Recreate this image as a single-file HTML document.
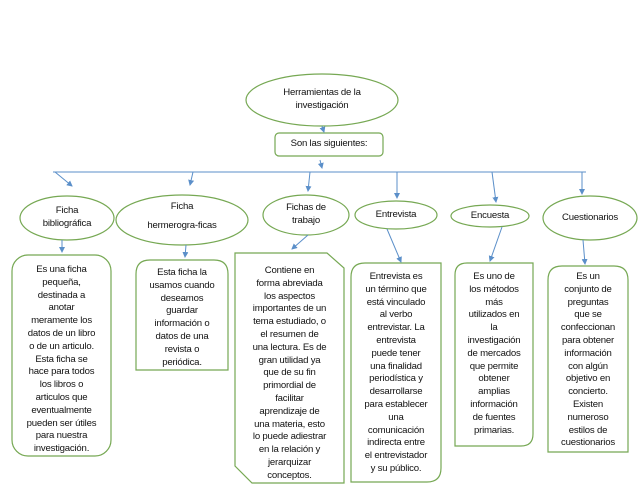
<!DOCTYPE html>
<html><head><meta charset="utf-8"><style>
body{margin:0;width:638px;height:493px;background:#fff;position:relative;overflow:hidden;font-family:"Liberation Sans",sans-serif;}
svg{position:absolute;left:0;top:0}
.t{position:absolute;text-align:center;font-size:9.6px;line-height:12.8px;color:#111;letter-spacing:-0.2px}
</style></head><body>
<svg width="638" height="493" viewBox="0 0 638 493">
<defs><marker id="a" markerWidth="6" markerHeight="6" refX="5" refY="3" orient="auto"><path d="M0,0L6,3L0,6z" fill="#5b8fc9"/></marker></defs>
<g fill="#fff" stroke="#76a853" stroke-width="1.2">
<ellipse cx="322" cy="100" rx="76" ry="26"/>
<rect x="275" y="133" width="108" height="23" rx="4"/>
<ellipse cx="67" cy="218" rx="47" ry="22"/>
<ellipse cx="182" cy="220" rx="66" ry="25"/>
<ellipse cx="306" cy="215" rx="43" ry="20"/>
<ellipse cx="396" cy="215" rx="41" ry="14"/>
<ellipse cx="490" cy="216" rx="39" ry="11"/>
<ellipse cx="590" cy="218" rx="47" ry="22"/>
<rect x="12" y="255" width="99" height="201" rx="16"/>
<path d="M136,370V274Q136,260 150,260H214Q228,260 228,274V370Z"/>
<path d="M235,253H327L344,268V483H252L235,466Z"/>
<path d="M351,482V277Q351,263 365,263H441V468Q441,482 427,482Z"/>
<path d="M455,446V275Q455,263 467,263H533V434Q533,446 521,446Z"/>
<path d="M548,452V280Q548,266 562,266H614Q628,266 628,280V452Z"/>
</g>
<g stroke="#5b8fc9" stroke-width="1" fill="none">
<line x1="53" y1="172" x2="586" y2="172"/>
<line x1="322" y1="126" x2="324" y2="132" marker-end="url(#a)"/>
<line x1="320" y1="160" x2="322" y2="168" marker-end="url(#a)"/>
<line x1="55" y1="172" x2="72" y2="186" marker-end="url(#a)"/>
<line x1="193" y1="172" x2="190" y2="185" marker-end="url(#a)"/>
<line x1="310" y1="172" x2="308" y2="191" marker-end="url(#a)"/>
<line x1="397" y1="172" x2="397" y2="198" marker-end="url(#a)"/>
<line x1="492" y1="172" x2="496" y2="202" marker-end="url(#a)"/>
<line x1="582" y1="172" x2="582" y2="194" marker-end="url(#a)"/>
<line x1="62" y1="240" x2="62" y2="252" marker-end="url(#a)"/>
<line x1="186" y1="245" x2="185" y2="257" marker-end="url(#a)"/>
<line x1="308" y1="235" x2="292" y2="249" marker-end="url(#a)"/>
<line x1="387" y1="229" x2="401" y2="262" marker-end="url(#a)"/>
<line x1="502" y1="227" x2="490" y2="261" marker-end="url(#a)"/>
<line x1="583" y1="240" x2="585" y2="264" marker-end="url(#a)"/>
</g>
</svg>
<div class="t" style="left:262px;top:87px;width:120px">Herramientas de la<br>investigación</div>
<div class="t" style="left:275px;top:138px;width:108px">Son las siguientes:</div>
<div class="t" style="left:20px;top:205px;width:94px">Ficha<br>bibliográfica</div>
<div class="t" style="left:118px;top:201px;width:128px">Ficha<br><span style="line-height:24px">hermerogra-ficas</span></div>
<div class="t" style="left:263px;top:202px;width:86px">Fichas de<br>trabajo</div>
<div class="t" style="left:355px;top:209px;width:82px">Entrevista</div>
<div class="t" style="left:451px;top:210px;width:78px">Encuesta</div>
<div class="t" style="left:541px;top:212px;width:98px">Cuestionarios</div>
<div class="t" style="left:12px;top:264px;width:99px">Es una ficha<br>pequeña,<br>destinada a<br>anotar<br>meramente los<br>datos de un libro<br>o de un articulo.<br>Esta ficha se<br>hace para todos<br>los libros o<br>articulos que<br>eventualmente<br>pueden ser útiles<br>para nuestra<br>investigación.</div>
<div class="t" style="left:136px;top:267px;width:92px">Esta ficha la<br>usamos cuando<br>deseamos<br>guardar<br>información o<br>datos de una<br>revista o<br>periódica.</div>
<div class="t" style="left:235px;top:265px;width:109px">Contiene en<br>forma abreviada<br>los aspectos<br>importantes de un<br>tema estudiado, o<br>el resumen de<br>una lectura. Es de<br>gran utilidad ya<br>que de su fin<br>primordial de<br>facilitar<br>aprendizaje de<br>una materia, esto<br>lo puede adiestrar<br>en la relación y<br>jerarquizar<br>conceptos.</div>
<div class="t" style="left:351px;top:271px;width:90px">Entrevista es<br>un término que<br>está vinculado<br>al verbo<br>entrevistar. La<br>entrevista<br>puede tener<br>una finalidad<br>periodística y<br>desarrollarse<br>para establecer<br>una<br>comunicación<br>indirecta entre<br>el entrevistador<br>y su público.</div>
<div class="t" style="left:455px;top:271px;width:78px">Es uno de<br>los métodos<br>más<br>utilizados en<br>la<br>investigación<br>de mercados<br>que permite<br>obtener<br>amplias<br>información<br>de fuentes<br>primarias.</div>
<div class="t" style="left:548px;top:271px;width:80px">Es un<br>conjunto de<br>preguntas<br>que se<br>confeccionan<br>para obtener<br>información<br>con algún<br>objetivo en<br>concierto.<br>Existen<br>numeroso<br>estilos de<br>cuestionarios</div>
</body></html>
